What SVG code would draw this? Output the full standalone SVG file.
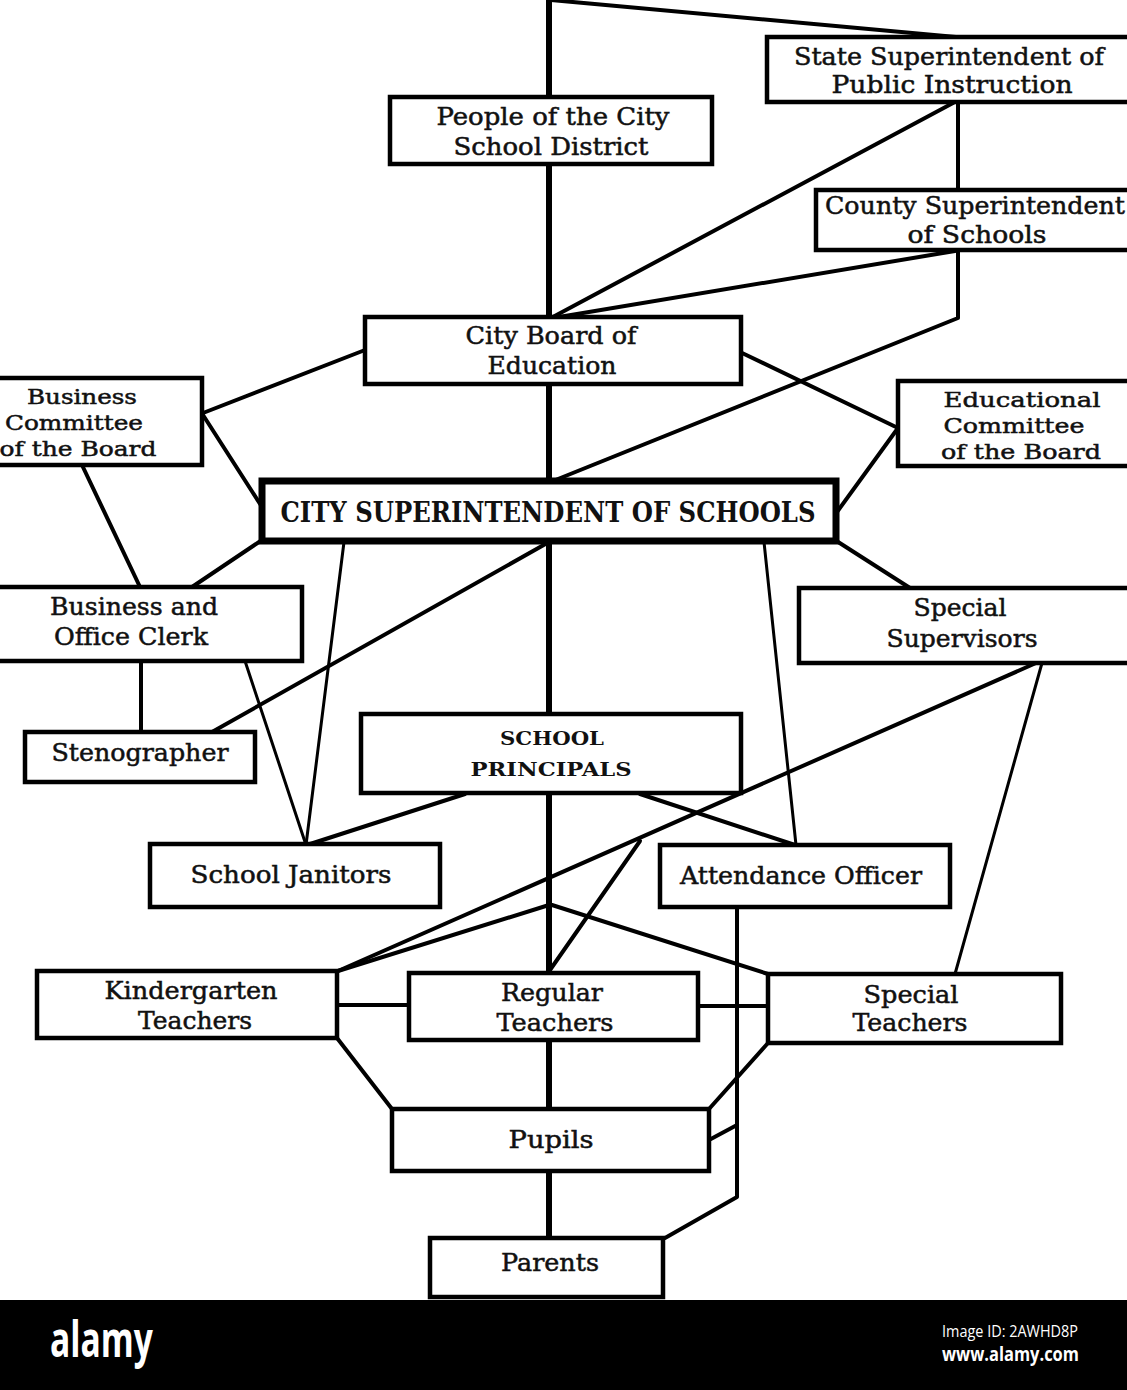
<svg xmlns="http://www.w3.org/2000/svg" width="1127" height="1390" viewBox="0 0 1127 1390">
<style>
.bx{fill:#fff;stroke:#000;stroke-width:4.5}
.bx2{fill:#fff;stroke:#000;stroke-width:7}
.t{font-family:"DejaVu Serif","Liberation Serif",serif;font-size:24px;fill:#111;stroke:#111;stroke-width:0.5;text-anchor:middle}
.t3{font-size:21px}
.tb{font-family:"DejaVu Serif","Liberation Serif",serif;font-size:27px;font-weight:bold;fill:#111;text-anchor:middle}
.ts{font-family:"DejaVu Serif","Liberation Serif",serif;font-size:18px;font-weight:bold;fill:#111;text-anchor:middle}
.c{stroke:#000;stroke-width:4;fill:none;stroke-linecap:round;stroke-linejoin:round}
.thin{stroke-width:3}
.spine{stroke-width:6}
.ban{font-family:"Open Sans","Liberation Sans",sans-serif;fill:#fff}
</style>
<rect width="1127" height="1390" fill="#fff"/>
<g id="connectors">
<line class="c spine" x1="549" y1="0" x2="549" y2="1238"/>
<line class="c" x1="551" y1="0" x2="956" y2="37"/>
<line class="c" x1="953" y1="103" x2="551" y2="318"/>
<line class="c" x1="958" y1="103" x2="958" y2="190"/>
<line class="c" x1="955" y1="251" x2="553" y2="318"/>
<polyline class="c" points="958,251 958,318 553,481"/>
<line class="c" x1="365" y1="350" x2="203" y2="413"/>
<line class="c" x1="203" y1="415" x2="262" y2="507"/>
<line class="c" x1="740" y1="352" x2="898" y2="428"/>
<line class="c" x1="898" y1="428" x2="837" y2="512"/>
<line class="c" x1="82" y1="465" x2="140" y2="587"/>
<line class="c" x1="262" y1="540" x2="192" y2="587"/>
<line class="c thin" x1="344" y1="542" x2="306" y2="845"/>
<line class="c" x1="549" y1="542" x2="212" y2="732"/>
<line class="c thin" x1="764" y1="542" x2="796" y2="845"/>
<line class="c" x1="835" y1="540" x2="910" y2="588"/>
<line class="c" x1="141" y1="661" x2="141" y2="732"/>
<line class="c thin" x1="245" y1="661" x2="306" y2="845"/>
<line class="c" x1="465" y1="794" x2="307" y2="845"/>
<line class="c" x1="640" y1="794" x2="795" y2="845"/>
<line class="c" x1="1036" y1="663" x2="338" y2="971"/>
<line class="c thin" x1="1042" y1="663" x2="955" y2="974"/>
<line class="c" x1="640" y1="841" x2="550" y2="970"/>
<line class="c" x1="549" y1="905" x2="338" y2="971"/>
<line class="c" x1="552" y1="905" x2="768" y2="974"/>
<line class="c" x1="337" y1="1005" x2="409" y2="1005"/>
<line class="c" x1="698" y1="1006" x2="768" y2="1006"/>
<line class="c" x1="337" y1="1038" x2="392" y2="1109"/>
<line class="c" x1="768" y1="1043" x2="709" y2="1109"/>
<polyline class="c" points="737,907 737,1197 665,1238"/>
<line class="c" x1="709" y1="1140" x2="737" y2="1125"/>
</g>
<g id="people">
<rect class="bx" x="390" y="97" width="322" height="67"/>
<text class="t" x="553" y="125" textLength="233" lengthAdjust="spacingAndGlyphs">People of the City</text>
<text class="t" x="551" y="155" textLength="195" lengthAdjust="spacingAndGlyphs">School District</text>
</g>
<g id="state">
<rect class="bx" x="767" y="37" width="368" height="65"/>
<text class="t" x="949" y="65" textLength="310" lengthAdjust="spacingAndGlyphs">State Superintendent of</text>
<text class="t" x="952" y="93" textLength="241" lengthAdjust="spacingAndGlyphs">Public Instruction</text>
</g>
<g id="county">
<rect class="bx" x="816" y="190" width="319" height="60"/>
<text class="t" x="975" y="214" textLength="300" lengthAdjust="spacingAndGlyphs">County Superintendent</text>
<text class="t" x="977" y="243" textLength="139" lengthAdjust="spacingAndGlyphs">of Schools</text>
</g>
<g id="board">
<rect class="bx" x="365" y="317" width="376" height="67"/>
<text class="t" x="551" y="344" textLength="171" lengthAdjust="spacingAndGlyphs">City Board of</text>
<text class="t" x="552" y="374" textLength="129" lengthAdjust="spacingAndGlyphs">Education</text>
</g>
<g id="business-committee">
<rect class="bx" x="-10" y="378" width="212" height="87"/>
<text class="t t3" x="82" y="404" textLength="110" lengthAdjust="spacingAndGlyphs">Business</text>
<text class="t t3" x="74" y="430" textLength="138" lengthAdjust="spacingAndGlyphs">Committee</text>
<text class="t t3" x="78" y="456" textLength="157" lengthAdjust="spacingAndGlyphs">of the Board</text>
</g>
<g id="educational-committee">
<rect class="bx" x="898" y="381" width="237" height="85"/>
<text class="t t3" x="1022" y="407" textLength="157" lengthAdjust="spacingAndGlyphs">Educational</text>
<text class="t t3" x="1014" y="433" textLength="141" lengthAdjust="spacingAndGlyphs">Committee</text>
<text class="t t3" x="1021" y="459" textLength="160" lengthAdjust="spacingAndGlyphs">of the Board</text>
</g>
<g id="city-superintendent">
<rect class="bx2" x="262" y="481" width="574" height="60"/>
<text class="tb" x="548" y="522" textLength="535" lengthAdjust="spacingAndGlyphs">CITY SUPERINTENDENT OF SCHOOLS</text>
</g>
<g id="clerk">
<rect class="bx" x="-10" y="587" width="312" height="74"/>
<text class="t" x="134" y="615" textLength="168" lengthAdjust="spacingAndGlyphs">Business and</text>
<text class="t" x="131" y="645" textLength="154" lengthAdjust="spacingAndGlyphs">Office Clerk</text>
</g>
<g id="special-supervisors">
<rect class="bx" x="799" y="588" width="336" height="75"/>
<text class="t" x="960" y="616" textLength="93" lengthAdjust="spacingAndGlyphs">Special</text>
<text class="t" x="962" y="647" textLength="151" lengthAdjust="spacingAndGlyphs">Supervisors</text>
</g>
<g id="stenographer">
<rect class="bx" x="25" y="732" width="230" height="50"/>
<text class="t" x="140" y="761" textLength="177" lengthAdjust="spacingAndGlyphs">Stenographer</text>
</g>
<g id="principals">
<rect class="bx" x="361" y="714" width="380" height="79"/>
<text class="ts" x="552" y="745" textLength="104" lengthAdjust="spacingAndGlyphs">SCHOOL</text>
<text class="ts" x="551" y="776" textLength="161" lengthAdjust="spacingAndGlyphs">PRINCIPALS</text>
</g>
<g id="janitors">
<rect class="bx" x="150" y="844" width="290" height="63"/>
<text class="t" x="291" y="883" textLength="201" lengthAdjust="spacingAndGlyphs">School Janitors</text>
</g>
<g id="attendance">
<rect class="bx" x="660" y="845" width="290" height="62"/>
<text class="t" x="801" y="884" textLength="242" lengthAdjust="spacingAndGlyphs">Attendance Officer</text>
</g>
<g id="kindergarten">
<rect class="bx" x="37" y="971" width="300" height="67"/>
<text class="t" x="191" y="999" textLength="173" lengthAdjust="spacingAndGlyphs">Kindergarten</text>
<text class="t" x="195" y="1029" textLength="114" lengthAdjust="spacingAndGlyphs">Teachers</text>
</g>
<g id="regular">
<rect class="bx" x="409" y="973" width="289" height="67"/>
<text class="t" x="552" y="1001" textLength="102" lengthAdjust="spacingAndGlyphs">Regular</text>
<text class="t" x="555" y="1031" textLength="117" lengthAdjust="spacingAndGlyphs">Teachers</text>
</g>
<g id="special-teachers">
<rect class="bx" x="768" y="974" width="293" height="69"/>
<text class="t" x="911" y="1003" textLength="95" lengthAdjust="spacingAndGlyphs">Special</text>
<text class="t" x="910" y="1031" textLength="115" lengthAdjust="spacingAndGlyphs">Teachers</text>
</g>
<g id="pupils">
<rect class="bx" x="392" y="1109" width="317" height="62"/>
<text class="t" x="551" y="1148" textLength="85" lengthAdjust="spacingAndGlyphs">Pupils</text>
</g>
<g id="parents">
<rect class="bx" x="430" y="1238" width="233" height="59"/>
<text class="t" x="550" y="1271" textLength="98" lengthAdjust="spacingAndGlyphs">Parents</text>
</g>
<g id="banner">
<rect x="0" y="1300" width="1127" height="90" fill="#000"/>
<text class="ban" x="50" y="1357" font-size="50" font-weight="bold" textLength="103" lengthAdjust="spacingAndGlyphs">alamy</text>
<text class="ban" x="942" y="1337" font-size="17" textLength="136" lengthAdjust="spacingAndGlyphs">Image ID: 2AWHD8P</text>
<text class="ban" x="942" y="1361" font-size="20" font-weight="bold" textLength="137" lengthAdjust="spacingAndGlyphs">www.alamy.com</text>
</g>
</svg>
